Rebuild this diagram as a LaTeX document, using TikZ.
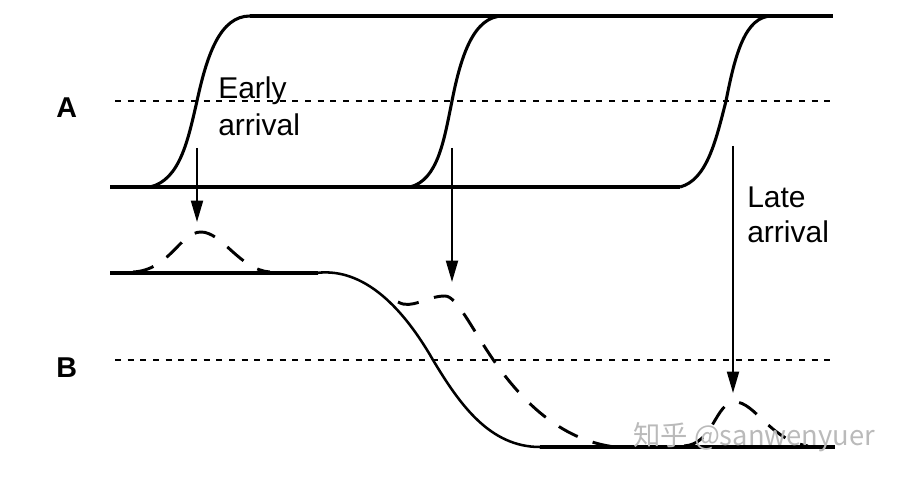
\documentclass[tikz,border=0pt]{standalone}
\usepackage{fontspec}
\setmainfont{Liberation Sans}
\newfontfamily\wmfont{Noto Sans CJK SC}
\usetikzlibrary{arrows.meta}
\tikzset{
  thickline/.style={line width=3.1pt},
  curveline/.style={line width=2.3pt},
  bcurve/.style={line width=1.9pt},
  refline/.style={line width=1.4pt, dash pattern=on 4.5pt off 5pt},
  glitch/.style={line width=2.2pt, dash pattern=on 16pt off 12pt},
  arr/.style={line width=1.4pt, -{Triangle[length=16pt,width=9pt]}},
  lbl/.style={inner sep=0pt, font=\fontsize{22.5}{26}\selectfont},
  sig/.style={inner sep=0pt, font=\fontsize{21.5}{25}\selectfont\bfseries},
  wm/.style={inner sep=0pt, text=black!27, font=\wmfont\fontsize{20.5}{24}\selectfont}
}
\begin{document}
\begin{tikzpicture}[x=0.75pt,y=-0.75pt]
\useasboundingbox (0,0) rectangle (898,477);
% reference levels
\coordinate (ra1) at (115,101); \coordinate (ra2) at (833,101);
\coordinate (rb1) at (115,360); \coordinate (rb2) at (833,360);
\draw[refline] (ra1) -- (ra2);
\draw[refline] (rb1) -- (rb2);
% labels A, B
\node[sig, anchor=base west] (lA) at (56,118) {A};
\node[sig, anchor=base west] (lB) at (56,377) {B};
% signal A
\draw[thickline] (110,187) -- (680,187);
\draw[thickline] (250,16) -- (833,16);
\draw[curveline] (150,187) .. controls (180,180) and (188,140) .. (197,101) .. controls (207,55) and (220,16) .. (250,16);
\draw[curveline] (410,187) .. controls (438,180) and (444,140) .. (452,101) .. controls (461,55) and (474,16) .. (503,16);
\draw[curveline] (680,187) .. controls (707,180) and (716,140) .. (726,101) .. controls (735,55) and (745,16) .. (772,16);
% signal B
\draw[thickline] (110,273) -- (318,273);
\draw[thickline] (540,447) -- (835,447);
\draw[bcurve] (316,273) .. controls (370,266) and (410,320) .. (433,360) .. controls (460,405) and (490,447) .. (540,447);
% glitches
\draw[glitch] (133,272) .. controls (170,270) and (180,232) .. (201,232) .. controls (222,232) and (240,270) .. (270,272);
\draw[glitch] (398,302) .. controls (412,310) and (426,296) .. (445,296) .. controls (456,296) and (470,325) .. (490,355) .. controls (520,400) and (560,440) .. (615,447);
\draw[glitch] (684,446) .. controls (714,444) and (715,402) .. (735,402) .. controls (755,402) and (770,440) .. (808,446);
% arrows
\coordinate (e1) at (197,148); \coordinate (e2) at (197,222);
\coordinate (m1) at (452,148); \coordinate (m2) at (452,282);
\coordinate (l1) at (733,146); \coordinate (l2) at (733,393);
\draw[arr] (e1) -- (e2);
\draw[arr] (m1) -- (m2);
\draw[arr] (l1) -- (l2);
% texts
\node[lbl, anchor=base west] (early) at (218,99) {Early};
\node[lbl, anchor=base west] (earlyb) at (218,136) {arrival};
\node[lbl, anchor=base west] (late) at (747,208) {Late};
\node[lbl, anchor=base west] (lateb) at (747,243) {arrival};
% watermark
\node[wm, anchor=base west] (wmark) at (633,445) {知乎 @sanwenyuer};
\end{tikzpicture}
\end{document}
